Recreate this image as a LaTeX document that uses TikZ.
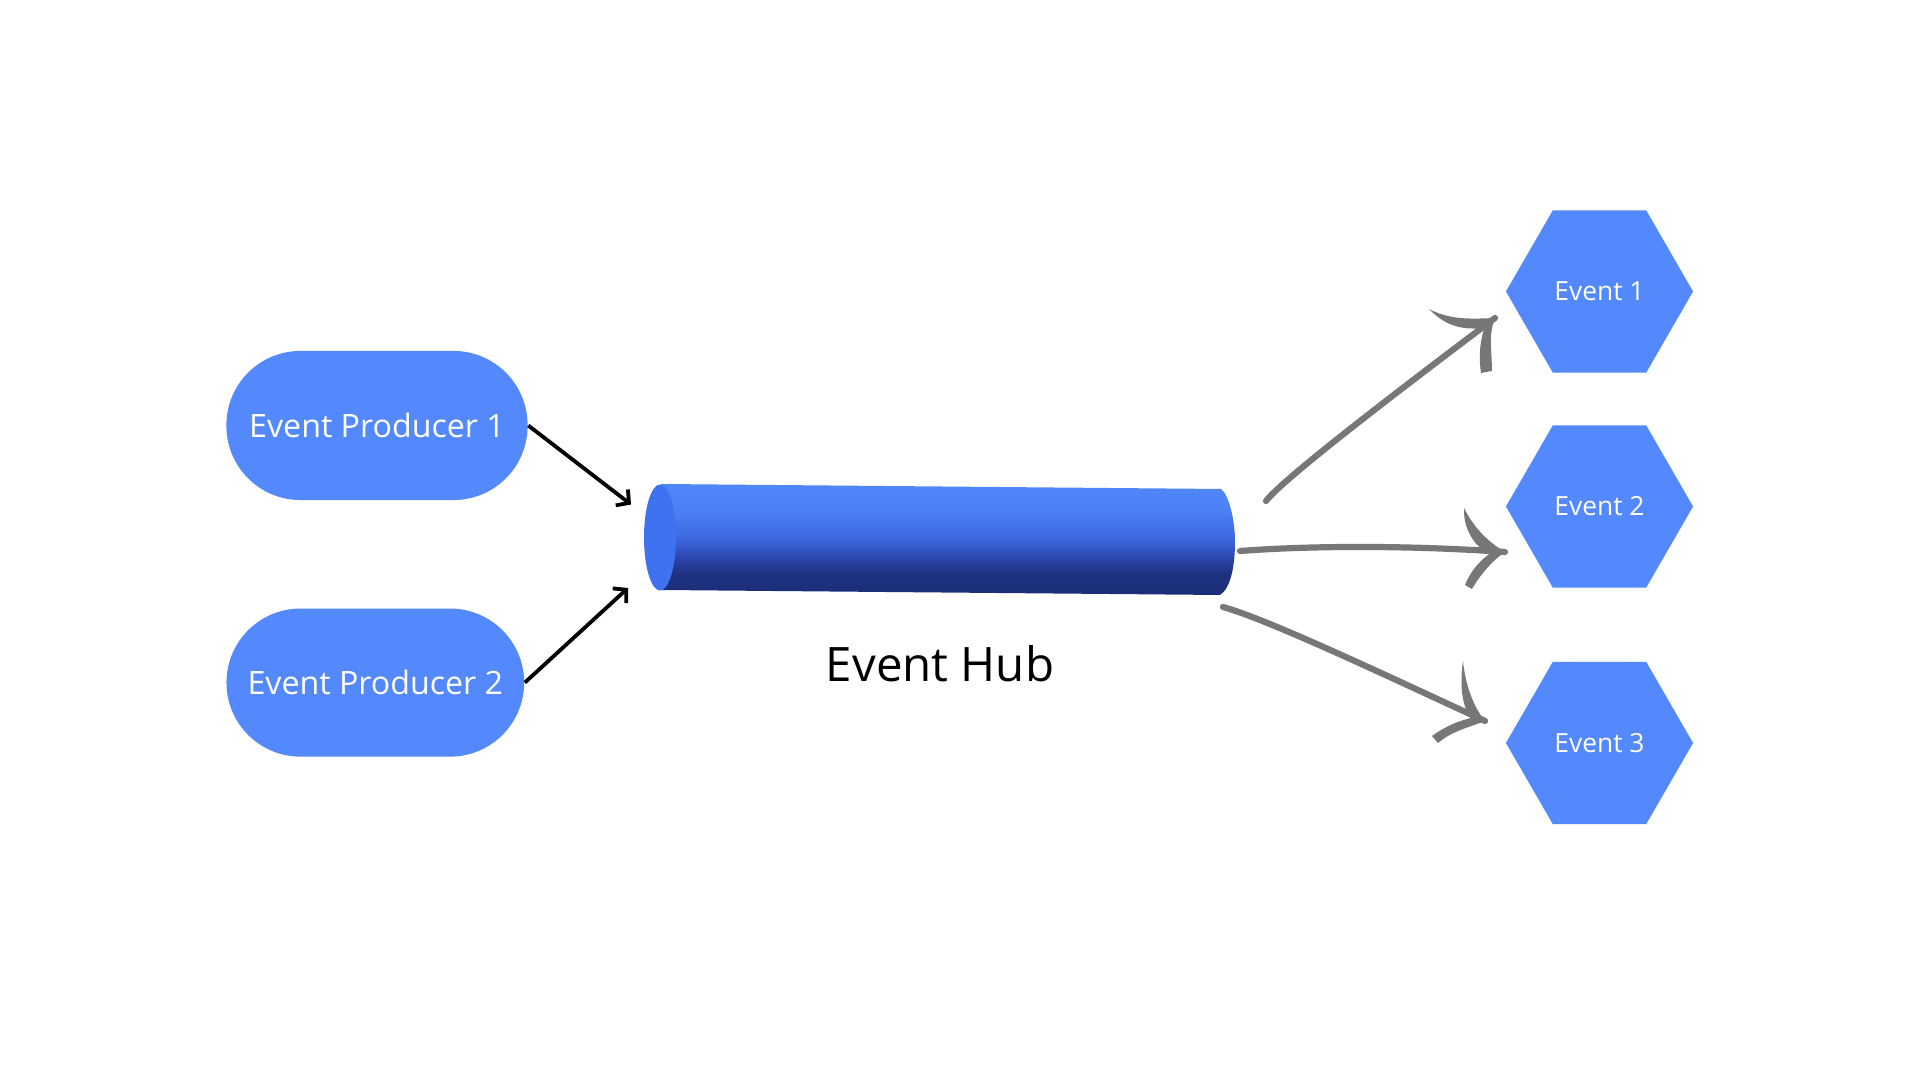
\documentclass[tikz,border=0pt]{standalone}
\usepackage{fontspec}
\setmainfont{Open Sans}
\usetikzlibrary{arrows.meta,shapes.geometric}
\definecolor{boxblue}{HTML}{5389FD}
\definecolor{capblue}{HTML}{3F72F0}
\definecolor{sketchgray}{HTML}{777777}
\definecolor{hubA}{HTML}{1C2E78}
\definecolor{hubB}{HTML}{1E317F}
\definecolor{hubC}{HTML}{2843A8}
\definecolor{hubD}{HTML}{3D66DE}
\definecolor{hubE}{HTML}{4C80F5}
\definecolor{hubF}{HTML}{5087F8}
\pgfdeclareverticalshading{hubshade}{100bp}{
  color(0bp)=(hubA);
  color(25bp)=(hubA);
  color(34bp)=(hubB);
  color(41bp)=(hubC);
  color(50bp)=(hubD);
  color(63bp)=(hubE);
  color(75bp)=(hubF);
  color(100bp)=(hubF)}
\tikzset{
  producer/.style={rectangle, rounded corners=0.74cm, fill=boxblue, text=white, font=\fontsize{9.15}{11}\selectfont},
  eventbox/.style={regular polygon, regular polygon sides=6, minimum size=1.87cm, inner sep=0pt,
    fill=boxblue, text=white, font=\fontsize{7.5}{9}\selectfont},
  inarrow/.style={black, line width=0.038cm, -{Straight Barb[length=0.09cm,width=0.2cm]}},
  sketchline/.style={draw=sketchgray, line width=0.062cm, line cap=round},
  sketchbarb/.style={fill=sketchgray}
}
\begin{document}
\begin{tikzpicture}[x=0.01cm,y=-0.01cm]
  \useasboundingbox (0,0) rectangle (1920,1080);
  \fill[white] (0,0) rectangle (1920,1080);
  % producers
  \node[producer, minimum width=3.01cm, minimum height=1.49cm] (prod1) at (377,425.5) {Event Producer 1};
  \node[producer, minimum width=2.975cm, minimum height=1.48cm] (prod2) at (375.3,682.6) {Event Producer 2};
  % hub
  \shade[shading=hubshade] (661,484) -- (1221,489) .. controls (1229,495) and (1235,520) .. (1235,542)
    .. controls (1235,565) and (1231,588) .. (1220,595) -- (661,590) -- cycle;
  \fill[capblue] (660,537.5) circle [x radius=0.16cm, y radius=0.53cm];
  \node[font=\fontsize{13.5}{16}\selectfont, text=black] (hublabel) at (940,664) {Event Hub};
  % events
  \node[eventbox] (event1) at (1599.5,291.5) {Event 1};
  \node[eventbox] (event2) at (1599.5,506.5) {Event 2};
  \node[eventbox] (event3) at (1599.5,743) {Event 3};
  % ends of the arrows
  \coordinate (hubin1) at (631,504.5);
  \coordinate (hubin2) at (628,588);
  \coordinate (hubout1) at (1266,501);
  \coordinate (hubout2) at (1240,551);
  \coordinate (hubout3) at (1223,607);
  \coordinate (tip1) at (1495,318);
  \coordinate (tip2) at (1505,552);
  \coordinate (tip3) at (1485,721);
  \draw[inarrow] (prod1.east) -- (hubin1);
  \draw[inarrow] (prod2.east) -- (hubin2);
  \draw[sketchline] (hubout1) .. controls (1282,480) and (1390,397) .. (tip1);
  \draw[sketchline] (hubout2) .. controls (1320,545) and (1420,546) .. (tip2);
  \draw[sketchline] (hubout3) .. controls (1270,620) and (1400,682) .. (tip3);
  % barbs
  \fill[sketchbarb] (tip1) .. controls (1470,319) and (1450,320) .. (1429,309) .. controls (1450,331) and (1470,329) .. (1488,328) -- cycle;
  \fill[sketchbarb] (tip1) .. controls (1488,335) and (1492,352) .. (1492,371) -- (1481,373) .. controls (1478,352) and (1481,338) .. (1486,322) -- cycle;
  \fill[sketchbarb] (tip2) .. controls (1490,543) and (1475,530) .. (1464,508) .. controls (1463,532) and (1478,551) .. (1494,556) -- cycle;
  \fill[sketchbarb] (tip2) .. controls (1492,561) and (1480,575) .. (1472,589) -- (1465,585) .. controls (1471,570) and (1483,556) .. (1498,549) -- cycle;
  \fill[sketchbarb] (tip3) .. controls (1476,710) and (1466,690) .. (1463,661) .. controls (1459,690) and (1463,710) .. (1474,722) -- cycle;
  \fill[sketchbarb] (tip3) .. controls (1470,727) and (1452,731) .. (1438,743) -- (1432,736) .. controls (1450,723) and (1465,719) .. (1480,716) -- cycle;
\end{tikzpicture}
\end{document}
